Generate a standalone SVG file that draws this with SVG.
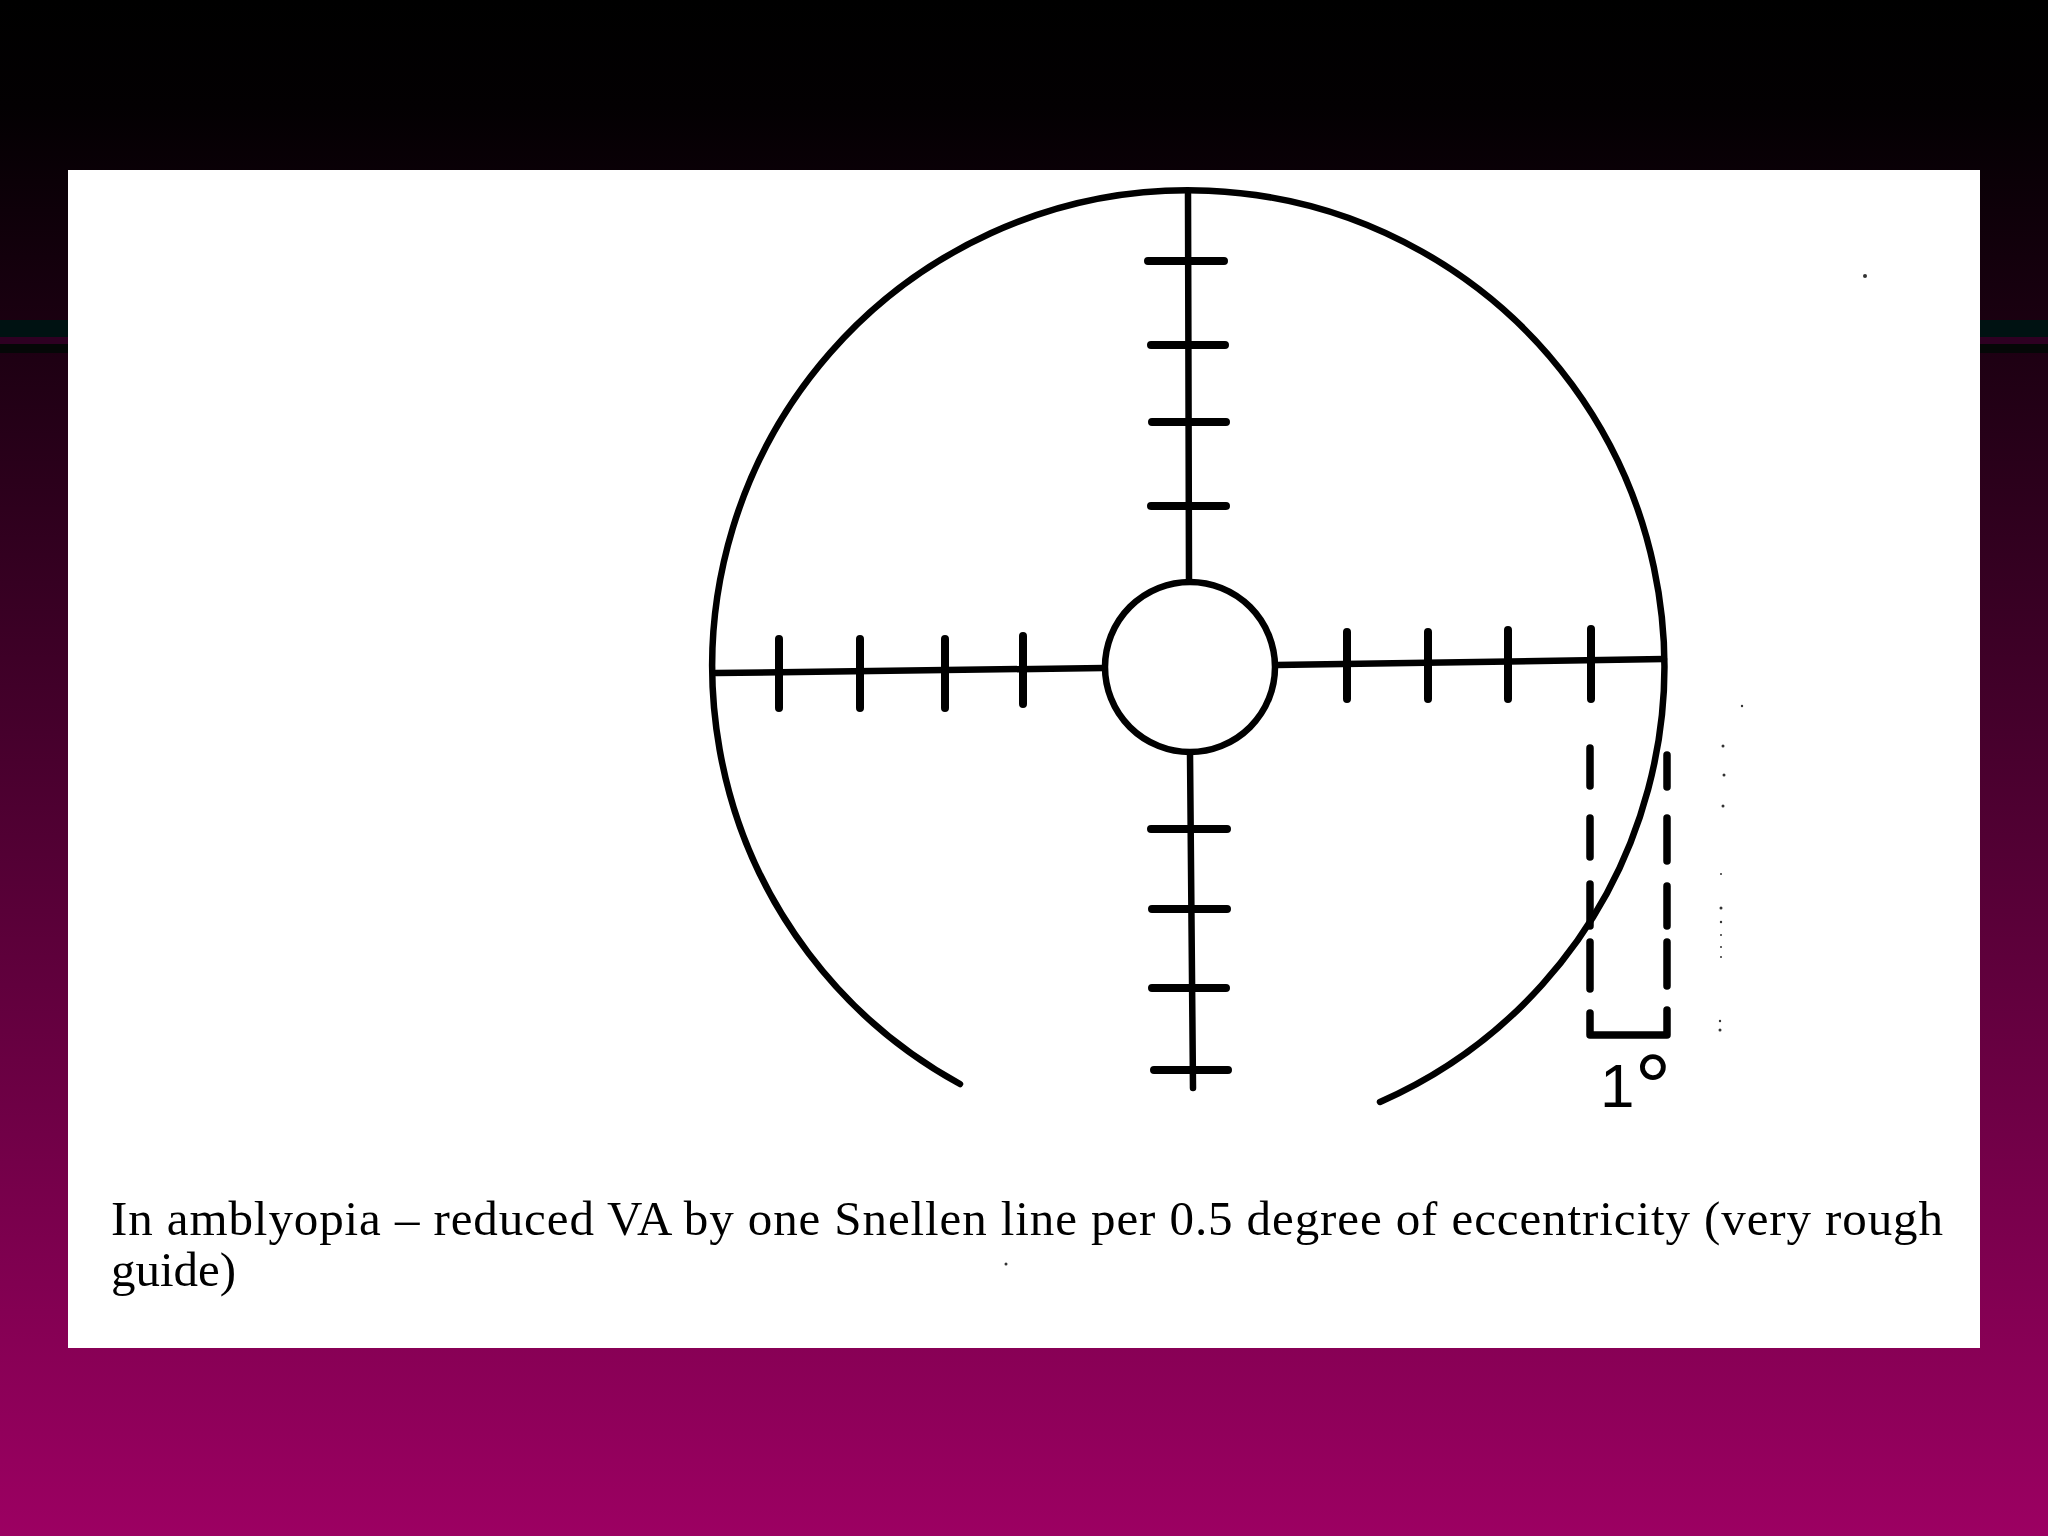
<svg xmlns="http://www.w3.org/2000/svg" width="2048" height="1536" viewBox="0 0 2048 1536">
  <defs>
    <linearGradient id="bg" x1="0" y1="0" x2="0" y2="1">
      <stop offset="0" stop-color="#000000"/>
      <stop offset="0.07" stop-color="#030002"/>
      <stop offset="1" stop-color="#9c0062"/>
    </linearGradient>
    <style>
      .ink { stroke: #000; fill: none; stroke-linecap: round; stroke-linejoin: round; }
      .circ { stroke-width: 6.5; }
      .axis { stroke-width: 6.5; }
      .tick { stroke-width: 8; }
      .dash { stroke-width: 7.5; }
      .caption { font-family: "Liberation Serif", "Times New Roman", serif; font-size: 49px; fill: #000; }
      .deg { font-family: "Liberation Sans", Arial, sans-serif; fill: #000; }
      .speck { fill: #333; }
    </style>
  </defs>

  <g id="background">
    <rect x="0" y="0" width="2048" height="1536" fill="url(#bg)"/>
    <rect x="0" y="320" width="68" height="17" fill="#001212"/>
    <rect x="0" y="337" width="68" height="7" fill="#2e0022"/>
    <rect x="0" y="344" width="68" height="9" fill="#050707"/>
    <rect x="1980" y="320" width="68" height="17" fill="#001212"/>
    <rect x="1980" y="337" width="68" height="7" fill="#2e0022"/>
    <rect x="1980" y="344" width="68" height="9" fill="#050707"/>
  </g>

  <g id="panel">
    <rect x="68" y="170" width="1912" height="1178" fill="#ffffff"/>
  </g>

  <g id="outer-circle">
    <path class="ink circ" d="M 960 1084 A 476 476 0 1 1 1380 1102"/>
  </g>

  <g id="inner-circle">
    <circle class="ink circ" cx="1190" cy="667" r="85"/>
  </g>

  <g id="axes">
    <path class="ink axis" d="M 716 673 L 1104 668"/>
    <path class="ink axis" d="M 1276 665 L 1664 659"/>
    <path class="ink axis" d="M 1188 194 L 1189 581"/>
    <path class="ink axis" d="M 1190 753 L 1193 1088"/>
  </g>

  <g id="ticks">
    <path class="ink tick" d="M 779 639 V 708 M 860 639 V 708 M 945 639 V 708 M 1023 636 V 704"/>
    <path class="ink tick" d="M 1347 632 V 699 M 1428 632 V 699 M 1508 630 V 699 M 1591 629 V 699"/>
    <path class="ink tick" d="M 1148 261 H 1224 M 1151 345 H 1225 M 1152 422 H 1226 M 1151 506 H 1226"/>
    <path class="ink tick" d="M 1151 829 H 1227 M 1152 909 H 1227 M 1152 988 H 1226 M 1154 1070 H 1228"/>
  </g>

  <g id="scale-bracket">
    <path class="ink dash" d="M 1590 748 V 786 M 1590 818 V 857 M 1590 884 V 926 M 1590 942 V 989 M 1590 1013 V 1035 H 1667 V 1010 M 1667 986 V 942 M 1667 926 V 886 M 1667 861 V 818 M 1667 787 V 755"/>
  </g>

  <g id="label-1deg">
    <text class="deg" x="1600" y="1107" font-size="62">1<tspan font-size="92" dy="12">°</tspan></text>
  </g>

  <g id="caption">
    <text class="caption" x="111" y="1235" textLength="1832" lengthAdjust="spacing">In amblyopia – reduced VA by one Snellen line per 0.5 degree of eccentricity (very rough</text>
    <text class="caption" x="111" y="1286">guide)</text>
  </g>

  <g id="specks">
    <circle class="speck" cx="1865" cy="276" r="2"/>
    <circle class="speck" cx="1742" cy="706" r="1.2"/>
    <circle class="speck" cx="1723" cy="746" r="1.5"/>
    <circle class="speck" cx="1724" cy="775" r="1.5"/>
    <circle class="speck" cx="1723" cy="806" r="1.5"/>
    <circle class="speck" cx="1721" cy="874" r="1"/>
    <circle class="speck" cx="1721" cy="908" r="1.5"/>
    <circle class="speck" cx="1721" cy="922" r="1.2"/>
    <circle class="speck" cx="1721" cy="935" r="1"/>
    <circle class="speck" cx="1721" cy="947" r="1"/>
    <circle class="speck" cx="1721" cy="957" r="1"/>
    <circle class="speck" cx="1720" cy="1021" r="1.2"/>
    <circle class="speck" cx="1720" cy="1030" r="1.5"/>
    <circle class="speck" cx="1006" cy="1264" r="1.5"/>
  </g>
</svg>
